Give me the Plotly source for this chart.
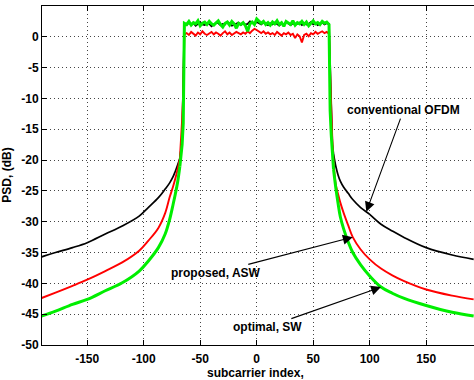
import numpy as np
import plotly.graph_objects as go

# ---- data ----
left_x = [-192, -178, -163, -150, -134, -119, -104, -96, -87, -81, -77, -74, -72, -70, -68, -67, -66, -65]
band_x = list(range(-64, 65, 2))
right_x = [65, 66, 67, 68, 70, 72, 74, 77, 81, 85, 92, 100, 110, 120, 130, 150, 173, 192]

black_left = [-35.8, -35.0, -34.2, -33.4, -32.0, -30.7, -29.1, -27.7, -26.1, -24.7, -23.7, -22.7, -21.8, -20.8, -19.7, -18.3, -15.8, -6.0]
red_left = [-42.5, -41.5, -40.4, -39.4, -38.0, -36.6, -34.7, -33.1, -31.0, -28.6, -26.0, -24.3, -23.0, -21.5, -19.8, -17.0, -13.5, -9.0]
green_left = [-45.4, -44.5, -43.4, -42.6, -41.2, -39.9, -38.0, -36.4, -34.2, -32.0, -29.6, -27.2, -25.5, -23.6, -21.0, -19.5, -17.5, -14.0]

black_band = [2.1, 1.9, 2.3, 2.0, 2.2, 1.8, 2.1, 2.4, 2.0, 1.9, 2.2, 2.1, 1.7,
              2.0, 2.3, 2.2, 1.9, 2.1, 2.0, 2.4, 2.2, 1.8, 2.0, 2.1, 2.3, 1.9,
              2.2, 2.0, 2.1, 2.5, 2.3, 2.1, 2.4, 2.2, 2.0, 2.3, 2.1, 1.9, 2.2,
              2.0, 2.3, 2.1, 1.8, 2.2, 2.0, 2.4, 2.1, 1.9, 2.2, 2.0, 2.1, 2.3,
              1.9, 2.2, 2.0, 2.1, 2.4, 2.0, 2.2, 1.9, 2.1, 2.3, 2.0, 2.2, 2.1]
red_band = [0.4, 0.6, 0.3, 0.8, 0.5, 0.2, 0.7, 0.4, 0.9, 0.5, 0.3, 0.6, 0.8,
            0.4, 0.7, 0.5, 0.2, 0.6, 0.9, 0.4, 0.7, 0.3, 0.5, 0.8, 0.6, 0.4,
            0.7, 0.5, 0.9, 0.6, 1.0, 1.3, 1.1, 0.8, 0.6, 0.9, 0.5, 0.7, 0.4,
            0.6, 0.3, 0.8, 0.5, 0.2, 0.6, 0.4, 0.7, 0.3, 0.5, -0.2, 0.4, 0.1,
            -0.9, 0.3, 0.5, 0.1, 0.6, 0.4, 0.8, 0.5, 0.7, 0.9, 0.6, 0.8, 0.5]
green_band = [2.2, 2.0, 2.5, 1.9, 2.3, 2.1, 2.6, 1.8, 2.2, 2.4, 2.0, 2.5, 2.1,
              1.9, 2.3, 2.6, 2.0, 1.6, 2.2, 2.4, 1.9, 2.5, 2.1, 1.4, 2.2, 2.0,
              2.3, 1.8, 0.9, 2.1, 2.4, 2.0, 2.9, 2.6, 2.2, 2.5, 2.0, 2.3, 1.9,
              2.4, 2.1, 2.6, 2.0, 2.3, 1.7, 2.5, 2.2, 2.0, 2.6, 1.9, 2.3, 2.1,
              2.5, 2.0, 2.4, 1.8, 2.2, 2.6, 2.1, 2.3, 2.0, 2.5, 2.2, 2.4, 2.0]

black_right = [-6.0, -14.6, -17.5, -19.0, -21.0, -22.4, -23.4, -24.4, -25.4, -26.4, -27.7, -28.8, -30.4, -31.5, -32.5, -34.2, -35.4, -36.1]
red_right = [-8.0, -12.0, -17.0, -20.5, -24.0, -25.5, -26.9, -28.6, -30.6, -32.5, -34.5, -36.1, -37.6, -38.7, -39.6, -41.0, -42.0, -42.6]
green_right = [-12.0, -16.0, -19.0, -21.5, -24.5, -27.0, -29.2, -31.2, -33.3, -35.0, -37.0, -38.8, -40.6, -41.6, -42.4, -43.6, -44.7, -45.3]

x_ticks = [-150, -100, -50, 0, 50, 100, 150]
y_ticks = list(range(-50, 6, 5))

labels = ["conventional OFDM", "proposed, ASW", "optimal, SW"]
arrow_tip_x = [97, 85, 110]
label_pos = [(130, -11.9), (-36.3, -38.3), (9.3, -47.1)]

series = [
    (black_left, black_band, black_right, "#000000", 1.7),
    (red_left, red_band, red_right, "#ff0000", 1.9),
    (green_left, green_band, green_right, "#00ee00", 3.0),
]

# split point between smooth tails and the steep/noisy middle
nl = 15   # left tail points up to x=-68
nr = 3    # right tail starts at x=68

fig = go.Figure()
for lft, band, rgt, col, w in series:
    fig.add_trace(go.Scatter(x=left_x[:nl], y=lft[:nl], mode="lines",
                             line=dict(color=col, width=w, shape="spline", smoothing=1.0),
                             showlegend=False, hoverinfo="skip"))
    mx = left_x[nl - 1:] + band_x + right_x[:nr + 1]
    my = lft[nl - 1:] + band + rgt[:nr + 1]
    fig.add_trace(go.Scatter(x=mx, y=my, mode="lines",
                             line=dict(color=col, width=w), showlegend=False,
                             hoverinfo="skip"))
    fig.add_trace(go.Scatter(x=right_x[nr:], y=rgt[nr:], mode="lines",
                             line=dict(color=col, width=w, shape="spline", smoothing=1.0),
                             showlegend=False, hoverinfo="skip"))

font = dict(family="Liberation Sans, Arial, sans-serif", size=12, color="#000000")
for (lft, band, rgt, col, w), lab, tx, (px, py) in zip(series, labels, arrow_tip_x, label_pos):
    ty = float(np.interp(tx, right_x, rgt))
    fig.add_annotation(x=tx, y=ty, ax=px, ay=py, axref="x", ayref="y",
                       text="<b>%s</b>" % lab, showarrow=True, arrowhead=2,
                       arrowsize=1.8, arrowwidth=1.1, arrowcolor="#000000", font=font)

# axis titles
fig.add_annotation(x=0.495, y=-0.083, xref="paper", yref="paper", showarrow=False,
                   xanchor="center", yanchor="middle",
                   text="<b>subcarrier index,</b>", font=font)
fig.add_annotation(x=-0.083, y=0.5, xref="paper", yref="paper", showarrow=False,
                   xanchor="center", yanchor="middle",
                   text="<b>PSD, (dB)</b>", textangle=-90, font=font)

fig.update_layout(
    width=474, height=380,
    margin=dict(l=42, r=0, t=6, b=35),
    paper_bgcolor="white", plot_bgcolor="white",
    font=font,
)
fig.update_xaxes(range=[-190, 192.3], tickvals=x_ticks,
                 ticktext=["<b>%d</b>" % v for v in x_ticks],
                 showgrid=True, gridcolor="#444444", griddash="1px,3px", gridwidth=1,
                 zeroline=False, showline=True, linecolor="#000000", linewidth=1,
                 mirror="ticks", ticks="inside", ticklen=5, tickcolor="#000000",
                 ticklabelstandoff=3, automargin=False)
fig.update_yaxes(range=[-50, 5], tickvals=y_ticks,
                 ticktext=["<b>%d</b>" % v for v in y_ticks],
                 showgrid=True, gridcolor="#444444", griddash="1px,3px", gridwidth=1,
                 zeroline=False, showline=True, linecolor="#000000", linewidth=1,
                 mirror=False, ticks="inside", ticklen=5, tickcolor="#000000",
                 automargin=False)

fig.write_html("out.html", config={"displayModeBar": False},
               post_script="document.body.style.margin='0';")
